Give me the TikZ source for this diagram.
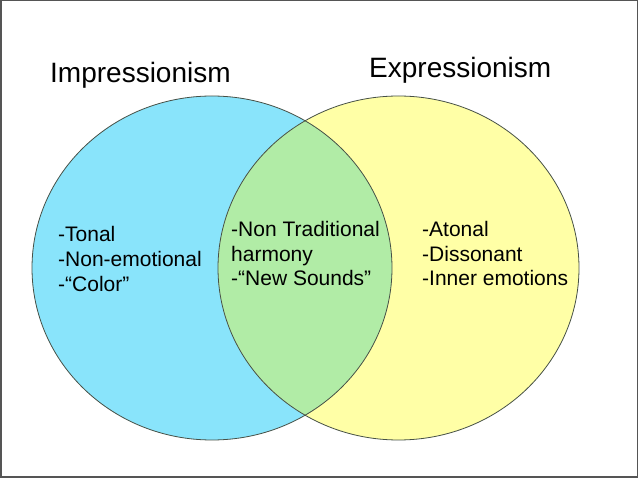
\documentclass[tikz,border=0pt]{standalone}
\usepackage{fontspec}
\setmainfont{Liberation Sans}
\definecolor{impblue}{RGB}{137,228,251}
\definecolor{expyellow}{RGB}{255,255,166}
\definecolor{mixgreen}{RGB}{177,236,166}
\definecolor{rimgray}{RGB}{70,80,70}
\definecolor{framegray}{RGB}{85,85,85}
\tikzset{
  titletext/.style={anchor=base west, inner sep=0pt, font=\fontsize{28}{32}\selectfont},
  bodytext/.style={anchor=base west, inner sep=0pt, font=\fontsize{21}{25}\selectfont},
  rim/.style={draw=rimgray, line width=0.8pt}
}
\begin{document}
\begin{tikzpicture}[x=1pt,y=-1pt]
\useasboundingbox (0,0) rectangle (638,478);
\fill[white] (0,0) rectangle (638,478);
\draw[framegray, line width=1.5pt] (0.75,0.75) rectangle (637.25,477.25);
% circles
\fill[impblue] (212,268) ellipse [x radius=180, y radius=172];
\fill[expyellow] (398.5,268) ellipse [x radius=180.5, y radius=172];
\begin{scope}
  \clip (212,268) ellipse [x radius=180, y radius=172];
  \fill[mixgreen] (398.5,268) ellipse [x radius=180.5, y radius=172];
\end{scope}
\draw[rim] (212,268) ellipse [x radius=180, y radius=172];
\draw[rim] (398.5,268) ellipse [x radius=180.5, y radius=172];
% titles
\node[titletext] (imp) at (50,83) {Impressionism};
\node[titletext] (exp) at (369,78) {Expressionism};
% left
\node[bodytext] (l1) at (58,242) {-Tonal};
\node[bodytext] (l2) at (58,267) {-Non-emotional};
\node[bodytext] (l3) at (58,292) {-“Color”};
% middle
\node[bodytext] (m1) at (231,237) {-Non Traditional};
\node[bodytext] (m2) at (231,262) {harmony};
\node[bodytext] (m3) at (231,286) {-“New Sounds”};
% right
\node[bodytext] (r1) at (422,237) {-Atonal};
\node[bodytext] (r2) at (422,262) {-Dissonant};
\node[bodytext] (r3) at (422,286) {-Inner emotions};
\end{tikzpicture}
\end{document}
